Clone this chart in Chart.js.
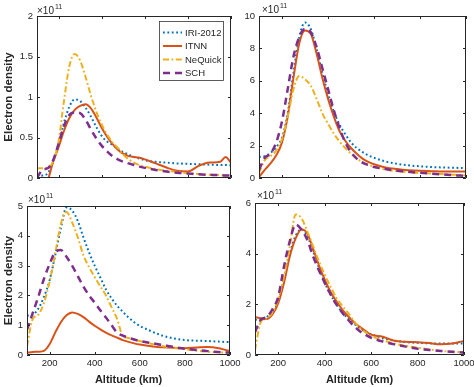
<!DOCTYPE html>
<html><head><meta charset="utf-8">
<script src="https://cdn.jsdelivr.net/npm/chart.js@4/dist/chart.umd.min.js"></script>
<style>
html,body{margin:0;padding:0;background:#fff;overflow:hidden;}
#wrap{position:relative;width:474px;height:387px;overflow:hidden;font-family:"Liberation Sans",Arial,sans-serif;color:#262626;background:#fff;}
canvas{position:absolute;}
.exp{position:absolute;font-size:10px;line-height:10px;white-space:nowrap;color:#262626;}
.exp sup{font-size:7px;position:relative;top:-5px;vertical-align:baseline;margin-left:1px;}
</style></head><body>
<div id="wrap">
<canvas id="c1" width="245" height="192" style="left:0;top:0"></canvas>
<canvas id="c2" width="245" height="192" style="left:237px;top:0"></canvas>
<canvas id="c3" width="250" height="197" style="left:0;top:190px"></canvas>
<canvas id="c4" width="250" height="197" style="left:230px;top:190px"></canvas>
<div class="exp" style="left:37px;top:6px">&times;10<sup>11</sup></div>
<div class="exp" style="left:262px;top:5px">&times;10<sup>11</sup></div>
<div class="exp" style="left:28px;top:195px">&times;10<sup>11</sup></div>
<div class="exp" style="left:257px;top:191px">&times;10<sup>11</sup></div>
</div>
<script>
// Altitude grid (km)
const altitude = [100,125,150,175,200,225,250,275,300,325,350,375,400,425,450,475,500,525,550,575,600,650,700,750,800,850,900,950,975,1000];
const seriesNames = ['IRI-2012','ITNN','NeQuick','SCH'];
// Electron density (x 1e11) per panel
const iri1  = [0.02,0.03,0.06,0.2,0.42,0.68,0.88,0.97,0.95,0.87,0.76,0.63,0.52,0.45,0.41,0.36,0.32,0.29,0.26,0.24,0.22,0.2,0.19,0.18,0.175,0.17,0.165,0.16,0.16,0.155];
const itnn1 = [-0.3,-0.2,-0.03,0.2,0.38,0.58,0.74,0.84,0.89,0.91,0.86,0.75,0.62,0.51,0.42,0.35,0.3,0.27,0.26,0.25,0.23,0.18,0.13,0.09,0.08,0.15,0.19,0.2,0.26,0.19];
const neq1  = [0.12,0.12,0.13,0.2,0.45,0.95,1.38,1.53,1.45,1.25,1.02,0.82,0.66,0.54,0.44,0.37,0.29,0.23,0.19,0.16,0.14,0.11,0.09,0.075,0.06,0.05,0.04,0.035,0.03,0.03];
const sch1  = [0.0,0.1,0.12,0.22,0.42,0.64,0.78,0.81,0.8,0.72,0.6,0.49,0.4,0.33,0.27,0.23,0.2,0.18,0.16,0.14,0.125,0.1,0.08,0.065,0.055,0.045,0.04,0.035,0.03,0.03];

const iri2  = [1.3,1.35,1.55,1.9,2.5,4.0,6.5,8.7,9.6,9.2,8.0,6.5,5.2,4.1,3.3,2.7,2.2,1.85,1.6,1.4,1.25,1.02,0.88,0.78,0.72,0.68,0.65,0.63,0.62,0.6];
const itnn2 = [0.05,0.5,0.9,1.4,2.2,3.8,6.2,8.3,9.1,8.9,7.7,6.2,4.9,3.8,2.9,2.3,1.85,1.5,1.2,1.0,0.85,0.65,0.55,0.48,0.44,0.42,0.4,0.4,0.4,0.4];
const neq2  = [0.3,1.1,1.35,1.7,2.4,3.8,5.5,6.3,6.1,5.7,4.9,4.0,3.35,2.75,2.25,1.85,1.5,1.2,0.98,0.82,0.7,0.52,0.42,0.35,0.31,0.28,0.24,0.2,0.18,0.16];
const sch2  = [0.5,1.25,1.5,2.2,3.5,5.5,7.5,8.7,9.2,9.0,8.1,6.8,5.5,4.2,3.1,2.2,1.6,1.2,0.95,0.8,0.68,0.55,0.45,0.38,0.32,0.27,0.22,0.17,0.15,0.12];

const iri3  = [1.32,1.35,1.55,1.95,2.5,3.35,4.25,4.95,4.85,4.5,3.95,3.45,3.0,2.6,2.2,1.9,1.65,1.45,1.26,1.1,0.98,0.8,0.65,0.56,0.5,0.48,0.47,0.45,0.44,0.44];
const itnn3 = [0.08,0.1,0.11,0.14,0.36,0.75,1.1,1.33,1.43,1.38,1.27,1.12,0.98,0.86,0.75,0.66,0.58,0.5,0.44,0.39,0.35,0.29,0.26,0.24,0.23,0.25,0.27,0.23,0.18,0.13];
const neq3  = [0.3,1.2,1.35,1.75,2.45,3.4,4.4,4.8,4.45,3.95,3.35,2.95,2.62,2.3,2.0,1.6,1.2,0.63,0.57,0.52,0.47,0.38,0.3,0.24,0.19,0.15,0.11,0.09,0.085,0.08];
const sch3  = [0.85,1.4,1.95,2.55,3.05,3.45,3.52,3.3,3.0,2.65,2.3,2.0,1.76,1.5,1.26,1.0,0.75,0.65,0.58,0.52,0.47,0.4,0.34,0.27,0.21,0.17,0.13,0.1,0.09,0.08];

const iri4  = [1.4,1.35,1.5,1.7,2.1,3.0,4.0,4.7,4.95,4.7,4.1,3.45,2.85,2.4,2.0,1.7,1.45,1.25,1.07,0.93,0.82,0.67,0.57,0.51,0.48,0.46,0.45,0.45,0.45,0.45];
const itnn4 = [1.5,1.45,1.42,1.6,2.05,2.85,3.9,4.6,4.95,4.8,4.2,3.55,2.98,2.5,2.13,1.8,1.54,1.3,1.12,0.95,0.8,0.72,0.56,0.52,0.5,0.47,0.42,0.45,0.5,0.55];
const neq4  = [0.2,1.3,1.45,1.67,2.2,3.1,4.3,5.55,5.4,4.88,4.3,3.7,3.18,2.7,2.26,1.95,1.67,1.35,1.08,0.9,0.75,0.58,0.45,0.36,0.29,0.22,0.16,0.13,0.12,0.11];
const sch4  = [0.9,1.4,1.5,1.8,2.3,3.5,4.5,5.15,4.95,4.55,3.9,3.35,2.85,2.4,2.0,1.68,1.4,1.15,0.95,0.8,0.68,0.53,0.42,0.33,0.25,0.2,0.16,0.13,0.11,0.1];

// Tick values
const xTicks = [200,400,600,800,1000];
const yTicks1 = [0,0.5,1,1.5,2];
const yTicks2 = [0,2,4,6,8,10];
const yTicks3 = [0,1,2,3,4,5];
const yTicks4 = [0,2,4,6];

const TXT = '#262626';
const FONT = '"Liberation Sans", Arial, sans-serif';
const styles = [
  {color:'#0072BD', width:2,   dash:[1.8,2.6], order:4},
  {color:'#D95319', width:2,   dash:[],        order:3},
  {color:'#EDB120', width:2,   dash:[6,2.5,1.8,2.5], order:2},
  {color:'#7E2F8E', width:2.5, dash:[7,5],     order:1}
];

const framePlugin = {
  id:'frame',
  afterDatasetsDraw(chart){
    const {ctx, chartArea:ca, scales:{x,y}} = chart;
    const L=Math.round(ca.left), T=Math.round(ca.top), R=Math.round(ca.right), B=Math.round(ca.bottom);
    ctx.save();
    ctx.strokeStyle=TXT; ctx.lineWidth=1; ctx.setLineDash([]);
    ctx.beginPath();
    ctx.rect(L+0.5,T+0.5,R-L-1,B-T-1);
    x.ticks.forEach(t=>{
      const px=Math.round(x.getPixelForValue(t.value))+0.5;
      ctx.moveTo(px,B); ctx.lineTo(px,B-3);
      ctx.moveTo(px,T); ctx.lineTo(px,T+3);
    });
    y.ticks.forEach(t=>{
      const py=Math.round(y.getPixelForValue(t.value))+0.5;
      ctx.moveTo(L,py); ctx.lineTo(L+3,py);
      ctx.moveTo(R,py); ctx.lineTo(R-3,py);
    });
    ctx.stroke();
    ctx.restore();
  }
};

const legendPlugin = {
  id:'boxLegend',
  afterDraw(chart){
    const {ctx, chartArea:ca} = chart;
    const bw=64, bh=59;
    const bx=Math.round(ca.right)-8-bw, by=Math.round(ca.top)+5;
    ctx.save();
    ctx.fillStyle='#fff';
    ctx.fillRect(bx,by,bw,bh);
    ctx.strokeStyle='#333'; ctx.lineWidth=0.8;
    ctx.strokeRect(bx+0.5,by+0.5,bw,bh);
    ctx.font='9.5px '+FONT;
    ctx.textBaseline='middle';
    chart.data.datasets.forEach((ds,i)=>{
      const yy=by+11.5+i*13.5;
      ctx.strokeStyle=ds.borderColor; ctx.lineWidth=ds.borderWidth;
      ctx.setLineDash(ds.borderDash||[]);
      ctx.beginPath(); ctx.moveTo(bx+4,yy); ctx.lineTo(bx+23,yy); ctx.stroke();
      ctx.setLineDash([]);
      ctx.fillStyle=TXT;
      ctx.fillText(ds.label,bx+26,yy+0.5);
    });
    ctx.restore();
  }
};

function makePanel(id, cfg, yMax, yTickVals, series, withLegend){
  const datasets = series.map((vals,i)=>({
    label: seriesNames[i],
    data: altitude.map((a,k)=>({x:a,y:vals[k]})),
    borderColor: styles[i].color,
    borderWidth: styles[i].width,
    borderDash: styles[i].dash,
    order: styles[i].order,
    pointRadius:0,
    fill:false,
    cubicInterpolationMode:'monotone',
    borderCapStyle:'butt'
  }));
  const plugins=[framePlugin];
  if(withLegend) plugins.push(legendPlugin);
  new Chart(document.getElementById(id), {
    type:'line',
    data:{datasets},
    plugins,
    options:{
      responsive:false, animation:false, devicePixelRatio:1, events:[],
      layout:{padding:{left:0, top:cfg.padTop, right:cfg.padRight, bottom:0}},
      plugins:{legend:{display:false}, tooltip:{enabled:false}},
      scales:{
        x:{
          type:'linear', min:100, max:1000,
          afterBuildTicks:s=>{ s.ticks = xTicks.map(v=>({value:v})); },
          afterFit:s=>{ s.height = cfg.xh; },
          grid:{display:false, drawTicks:false},
          border:{display:false},
          ticks:{display:cfg.showX, autoSkip:false, maxRotation:0, minRotation:0, padding:3,
                 callback:v=>String(v), color:TXT, font:{family:FONT, size:9.5}},
          title:{display:cfg.showX, text:'Altitude (km)', color:TXT, padding:{top:0,bottom:0.4},
                 font:{family:FONT, size:11, weight:'bold'}}
        },
        y:{
          min:0, max:yMax,
          afterBuildTicks:s=>{ s.ticks = yTickVals.map(v=>({value:v})); },
          afterFit:s=>{ s.width = cfg.yw; },
          grid:{display:false, drawTicks:false},
          border:{display:false},
          ticks:{autoSkip:false, padding:4, color:TXT, callback:v=>String(v),
                 font:{family:FONT, size:9.5}},
          title:{display:cfg.showYTitle, text:'Electron density', color:TXT, padding:{top:1.5,bottom:0},
                 font:{family:FONT, size:11.5, weight:'bold'}}
        }
      }
    }
  });
}

makePanel('c1',{padTop:16,padRight:14,xh:14,yw:37,showX:false,showYTitle:true},2,yTicks1,[iri1,itnn1,neq1,sch1],true);
makePanel('c2',{padTop:16,padRight:16,xh:14,yw:22,showX:false,showYTitle:false},10,yTicks2,[iri2,itnn2,neq2,sch2],false);
makePanel('c3',{padTop:16,padRight:20,xh:32,yw:27,showX:true,showYTitle:true},5,yTicks3,[iri3,itnn3,neq3,sch3],false);
makePanel('c4',{padTop:13,padRight:16,xh:32,yw:25,showX:true,showYTitle:false},6,yTicks4,[iri4,itnn4,neq4,sch4],false);
</script>
</body></html>
